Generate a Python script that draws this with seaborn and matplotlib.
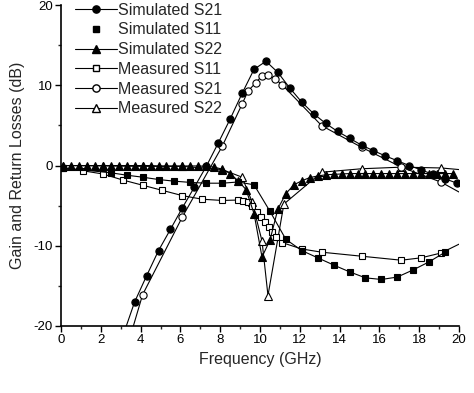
import matplotlib
matplotlib.use("Agg")
import matplotlib.pyplot as plt
import seaborn as sns
import numpy as np
from matplotlib.lines import Line2D

# ---------------- data ----------------
sim_s21_f = [3.1, 3.7, 4.3, 4.9, 5.5, 6.1, 6.7, 7.3, 7.9, 8.5, 9.1, 9.7, 10.3, 10.9,
             11.5, 12.1, 12.7, 13.3, 13.9, 14.5, 15.1, 15.7, 16.3, 16.9, 17.5,
             18.1, 18.7, 19.3, 19.9]
sim_s21_db = [-21.3, -17.0, -13.75, -10.6, -7.95, -5.26, -2.7, -0.1, 2.8, 5.8, 9.0,
              12.0, 13.0, 11.6, 9.65, 7.9, 6.45, 5.25, 4.25, 3.4, 2.55, 1.85, 1.2,
              0.6, 0.0, -0.55, -1.1, -1.65, -2.2]

sim_s11_f = [0.1, 2.5, 3.3, 4.1, 4.9, 5.7, 6.5, 7.3, 8.1, 8.9, 9.7, 10.5, 11.3, 12.1,
             12.9, 13.7, 14.5, 15.3, 16.1, 16.9, 17.7, 18.5, 19.3]
sim_s11_db = [-0.3, -0.9, -1.2, -1.45, -1.74, -1.95, -2.1, -2.2, -2.2, -2.05, -2.4,
              -5.7, -9.2, -10.6, -11.5, -12.4, -13.25, -14.0, -14.2, -13.9, -13.0,
              -12.0, -10.8]

sim_s22_f = [0.1, 0.5, 0.9, 1.3, 1.7, 2.1, 2.5, 2.9, 3.3, 3.7, 4.1, 4.5, 4.9, 5.3,
             5.7, 6.1, 6.5, 6.9, 7.3, 7.7, 8.1, 8.5, 8.9, 9.3, 9.7, 10.1, 10.5, 10.9,
             11.3, 11.7, 12.1, 12.5, 12.9, 13.3, 13.7, 14.1, 14.5, 14.9, 15.3, 15.7,
             16.1, 16.5, 16.9, 17.3, 17.7, 18.1, 18.5, 18.9, 19.3, 19.7]
sim_s22_db = [0.0, 0.0, 0.0, 0.0, 0.0, 0.0, 0.0, 0.0, 0.0, 0.0, 0.0, 0.0, -0.05, -0.05,
              -0.05, -0.05, -0.05, -0.05, -0.1, -0.2, -0.45, -1.0, -1.9, -3.0, -6.0,
              -11.4, -9.3, -5.4, -3.5, -2.4, -1.9, -1.5, -1.3, -1.15, -1.1, -1.05,
              -1.0, -1.0, -1.0, -1.0, -1.0, -1.0, -1.0, -1.0, -1.0, -1.0, -1.0, -1.0,
              -1.0, -1.0]

meas_s11_f = [0.1, 1.1, 2.1, 3.1, 4.1, 5.1, 6.1, 7.1, 8.1, 8.9, 9.15, 9.4, 9.6, 9.85,
              10.05, 10.25, 10.45, 10.6, 10.8, 11.1, 12.1, 13.1, 15.1, 17.1, 18.1,
              19.1, 20.0]
meas_s11_db = [-0.25, -0.65, -1.05, -1.8, -2.45, -3.1, -3.75, -4.2, -4.35, -4.3, -4.4,
               -4.6, -5.0, -5.8, -6.4, -7.0, -7.7, -8.3, -8.9, -9.6, -10.4, -10.8,
               -11.3, -11.8, -11.5, -10.9, -9.8]

meas_s21_f = [3.1, 4.1, 6.1, 8.1, 9.1, 9.4, 9.8, 10.1, 10.4, 10.75, 11.1, 13.1, 15.1,
              17.1, 19.1, 20.0]
meas_s21_db = [-24.5, -16.1, -6.4, 2.4, 7.66, 9.3, 10.35, 11.2, 11.3, 10.8, 10.1, 4.97,
               2.28, -0.2, -2.07, -3.3]

meas_s22_f = [0.1, 2.1, 4.1, 6.1, 8.1, 9.1, 9.6, 10.1, 10.4, 11.2, 13.1, 15.1, 17.1,
              19.1, 20.0]
meas_s22_db = [0.0, -0.05, -0.1, -0.1, -0.5, -1.45, -4.5, -9.4, -16.2, -4.8, -0.83,
               -0.4, -0.2, -0.3, -0.5]

x_ticks = [0, 2, 4, 6, 8, 10, 12, 14, 16, 18, 20]
y_ticks = [-20, -10, 0, 10, 20]
legend_labels = ["Simulated S21", "Simulated S11", "Simulated S22",
                 "Measured S11", "Measured S21", "Measured S22"]

# ---------------- style ----------------
sns.set_style("ticks")
plt.rcParams["font.family"] = ["Liberation Sans", "DejaVu Sans"]

fig = plt.figure(figsize=(4.74, 3.93), dpi=100)
ax = fig.add_axes([0.1287, 0.1705, 0.8397, 0.8165])

lw = 0.8
mew = 0.8
ms = 5.2

common = dict(ax=ax, color="black", linewidth=lw, markeredgecolor="black",
              markeredgewidth=mew, sort=False, estimator=None)

# Measured first so simulated filled markers sit on top where they coincide
sns.lineplot(x=meas_s22_f, y=meas_s22_db, marker="^", markersize=ms + 0.5,
             markerfacecolor="white", markevery=slice(0, -1), zorder=3, **common)
sns.lineplot(x=meas_s11_f, y=meas_s11_db, marker="s", markersize=ms - 0.6,
             markerfacecolor="white", markevery=slice(0, -1), zorder=3, **common)
sns.lineplot(x=meas_s21_f, y=meas_s21_db, marker="o", markersize=ms,
             markerfacecolor="white", markevery=slice(1, -1), zorder=3, **common)

sns.lineplot(x=sim_s11_f, y=sim_s11_db, zorder=4, **common)
sns.lineplot(x=sim_s11_f, y=sim_s11_db, marker="s", markersize=ms - 0.6,
             markerfacecolor="black", linestyle="none", zorder=4, **common)
sns.lineplot(x=sim_s22_f, y=sim_s22_db, marker="^", markersize=ms + 0.5,
             markerfacecolor="black", zorder=4, **common)
sns.lineplot(x=sim_s21_f, y=sim_s21_db, marker="o", markersize=ms,
             markerfacecolor="black", zorder=5, **common)

ax.set_xlim(0, 20)
ax.set_ylim(-20, 20)
ax.set_xticks(x_ticks)
ax.set_yticks(y_ticks)
ax.set_xticks(np.arange(1, 20, 2), minor=True)
ax.set_yticks([-15, -5, 5, 15], minor=True)
ax.tick_params(axis="both", which="major", direction="out", length=4, width=1.0,
               labelsize=9.5, colors="black", pad=2)
ax.tick_params(axis="both", which="minor", direction="out", length=2.5, width=1.0)
ax.set_xticklabels([str(v) for v in x_ticks])
ax.set_yticklabels([str(v) for v in y_ticks])
for s in ("top", "right"):
    ax.spines[s].set_visible(False)
for s in ("left", "bottom"):
    ax.spines[s].set_linewidth(1.2)
    ax.spines[s].set_color("black")

ax.set_xlabel("Frequency (GHz)", fontsize=11.5, labelpad=4)
ax.set_ylabel("Gain and Return Losses (dB)", fontsize=11.5, labelpad=6)

# legend
handles = [
    Line2D([], [], color="black", lw=lw, marker="o", ms=ms, mfc="black", mec="black"),
    Line2D([], [], color="black", lw=0, marker="s", ms=ms - 0.6, mfc="black", mec="black"),
    Line2D([], [], color="black", lw=lw, marker="^", ms=ms + 0.5, mfc="black", mec="black"),
    Line2D([], [], color="black", lw=lw, marker="s", ms=ms - 0.6, mfc="white", mec="black"),
    Line2D([], [], color="black", lw=lw, marker="o", ms=ms, mfc="white", mec="black"),
    Line2D([], [], color="black", lw=lw, marker="^", ms=ms + 0.5, mfc="white", mec="black"),
]
ax.legend(handles, legend_labels, loc="upper left", bbox_to_anchor=(0.02, 1.028),
          frameon=False, fontsize=11.5, handlelength=2.6, handletextpad=0.1,
          labelspacing=0.3, borderaxespad=0.0)

fig.savefig("out.png", dpi=100)
